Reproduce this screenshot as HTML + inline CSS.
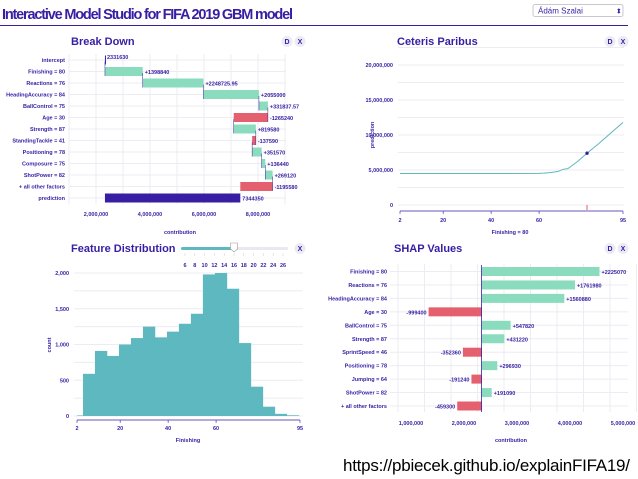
<!DOCTYPE html>
<html><head><meta charset="utf-8"><style>
html,body{margin:0;padding:0;background:#fff;width:638px;height:479px;overflow:hidden}
svg{display:block;font-family:"Liberation Sans","DejaVu Sans",sans-serif}
.t{fill:#371ea3;font-size:5.5px;font-weight:bold}
.ttl{fill:#371ea3;font-size:11px;font-weight:bold}
.btn{fill:#ecebf5}
.bt{fill:#371ea3;font-size:7px;font-weight:bold;text-anchor:middle}
.g{stroke:#ececf2;stroke-width:1}
</style></head><body>
<svg id="s" width="638" height="479" viewBox="0 0 638 479">
<text x="2" y="19" style="fill:#371ea3;font-size:14.5px;font-weight:bold" textLength="291">Interactive Model Studio for FIFA 2019 GBM model</text>
<line x1="0" y1="25.5" x2="628" y2="25.5" stroke="#371ea3" stroke-width="1"/>
<g><rect x="533" y="4.5" width="90" height="12" rx="2" fill="#fff" stroke="#c8c8d0"/><text x="538" y="13.5" style="fill:#371ea3;font-size:8px">Ádám Szalai</text><text x="616" y="13.5" style="fill:#371ea3;font-size:7px">⬍</text></g>
<text x="343" y="471" style="fill:#000;font-size:17px" textLength="287">https://pbiecek.github.io/explainFIFA19/</text>
<g id="bd"></g><g id="cp"></g><g id="fd"></g><g id="sh"></g>
</svg>
<script>
// Break Down data
const bdLabels=["intercept","Finishing = 80","Reactions = 76","HeadingAccuracy = 84","BallControl = 75","Age = 30","Strength = 87","StandingTackle = 41","Positioning = 78","Composure = 75","ShotPower = 82","+ all other factors","prediction"];
const bdValues=[2331630,1398840,2248725.95,2055000,331837.57,-1265240,819580,-137590,351570,136440,269120,-1195580,7344350];
const bdText=["2331630","+1398840","+2248725.95","+2055000","+331837.57","-1265240","+819580","-137590","+351570","+136440","+269120","-1195580","7344350"];
const bdTicks=[2000000,4000000,6000000,8000000];
// Ceteris Paribus data
const cpX=[2,20,40,60,62,65,68,70,72,74,76,78,80,85,90,95];
const cpY=[4.5,4.5,4.5,4.52,4.55,4.65,4.8,5.1,5.2,5.7,6.2,6.8,7.4,8.8,10.3,11.8];
const cpObsX=80, cpObsY=7.4;
const cpYTicks=[0,5,10,15,20];
const cpXTicks=[2,20,40,60,95];
// Feature distribution data
const fdEdges=[2,4.5,9.5,14.5,19.5,24.5,29.5,34.5,39.5,44.5,49.5,54.5,59.5,64.5,69.5,74.5,79.5,84.5,89.5,94.5];
const fdCounts=[8,590,910,840,1000,1090,1250,1100,1180,1290,1430,1980,2000,1780,1020,410,130,30,10];
const fdYTicks=[0,500,1000,1500,2000];
const fdXTicks=[2,20,40,60,95];
const sliderTicks=[6,8,10,12,14,16,18,20,22,24,26];
const sliderValue=16;
// SHAP data
const shLabels=["Finishing = 80","Reactions = 76","HeadingAccuracy = 84","Age = 30","BallControl = 75","Strength = 87","SprintSpeed = 46","Positioning = 78","Jumping = 64","ShotPower = 82","+ all other factors"];
const shValues=[2225070,1761980,1560880,-999400,547820,431220,-352360,296930,-191240,191090,-459300];
const shBase=2331630;
const shTicks=[1000000,2000000,3000000,4000000,5000000];

const NS="http://www.w3.org/2000/svg";
function el(p,tag,a,txt){const e=document.createElementNS(NS,tag);for(const k in a)e.setAttribute(k,a[k]);if(txt!==undefined)e.textContent=txt;p.appendChild(e);return e;}
const fmt=v=>v.toLocaleString("en-US");
const GREEN="#8bdcbe",RED="#e4606e",DARK="#371ea3",TEAL="#5db8c0";
function header(g,title,x,y,bx,btns){
  const t=el(g,"text",{x:x,y:y,class:"ttl"},title);
  
  
  btns.forEach((b,i)=>{const c=el(g,"circle",{cx:bx+i*13,cy:y-3.5,r:5.5,class:"btn"});
    
    
    el(g,"text",{x:bx+i*13,y:y-1,class:"bt"},b);});
}
// ---------- Break Down ----------
(function(){
  const g=document.getElementById("bd");
  
  
  header(g,"Break Down",71,45,287,["D","X"]);
  const xs=v=>96+(v-2000000)*54/2000000, y0=60, dy=11.5;
  for(let i=0;i<=8;i++){el(g,"line",{x1:69+i*27,x2:69+i*27,y1:54,y2:204,class:"g"});}
  bdLabels.forEach((l,i)=>el(g,"line",{x1:69,x2:286,y1:y0+i*dy,y2:y0+i*dy,class:"g"}));
  bdTicks.forEach(t=>{const tt=el(g,"text",{x:xs(t),y:216,class:"t","text-anchor":"middle"},fmt(t));
    });
  let cum=0;
  bdLabels.forEach((l,i)=>{
    const y=y0+i*dy;
    const lt=el(g,"text",{x:65,y:y+2,class:"t","text-anchor":"end"},l);
    
    let a,b,col;
    if(i===0){a=bdValues[0];b=bdValues[0];cum=a;col=DARK;}
    else if(i===bdLabels.length-1){a=bdValues[0];b=bdValues[i];col=DARK;}
    else{a=cum;b=cum+bdValues[i];cum=b;col=bdValues[i]>=0?GREEN:RED;}
    const x1=xs(Math.min(a,b)),x2=xs(Math.max(a,b));
    const r=el(g,"rect",{x:x1,y:y-4.5,width:Math.max(x2-x1,1),height:9,fill:col});
    
    
    if(i>0&&i<bdLabels.length-1) el(g,"line",{x1:xs(a),x2:xs(a),y1:y-10,y2:y+4.5,stroke:"#371ea3","stroke-width":0.5});
    el(g,"text",{x:x2+2,y:y+(i===0?-1:2.5),class:"t"},bdText[i]);
  });
  el(g,"text",{x:180,y:234,class:"t","text-anchor":"middle","font-weight":"bold","font-size":"7"},"contribution");
})();
// ---------- Ceteris Paribus ----------
(function(){
  const g=document.getElementById("cp");
  
  
  header(g,"Ceteris Paribus",397,45,610,["D","X"]);
  const xs=v=>400+(v-2)*223/93, ys=v=>205-v*7;
  for(let v=0;v<=22.5;v+=2.5) el(g,"line",{x1:398,x2:624,y1:ys(v),y2:ys(v),class:"g"});
  cpYTicks.forEach(t=>{const tt=el(g,"text",{x:393,y:ys(t)+2,class:"t","text-anchor":"end"},t===0?"0":fmt(t*1000000));
    });
  el(g,"line",{x1:400,x2:623,y1:211,y2:211,stroke:"#371ea3","stroke-width":0.8});
  cpXTicks.forEach(t=>{el(g,"line",{x1:xs(t),x2:xs(t),y1:211,y2:214,stroke:"#371ea3","stroke-width":0.6});
    el(g,"text",{x:xs(t),y:222,class:"t","text-anchor":"middle"},String(t));});
  const rug=el(g,"line",{x1:xs(cpObsX),x2:xs(cpObsX),y1:205,y2:210,stroke:"#e4606e","stroke-width":1});
  
  const p=el(g,"polyline",{points:cpX.map((x,i)=>xs(x)+","+ys(cpY[i])).join(" "),fill:"none",stroke:TEAL,"stroke-width":1});
  
  const d=el(g,"circle",{cx:xs(cpObsX),cy:ys(cpObsY),r:1.7,fill:DARK});
  
  el(g,"text",{x:0,y:0,class:"t","text-anchor":"middle","font-weight":"bold","font-size":"7",transform:"translate(374,135) rotate(-90)"},"prediction");
  el(g,"text",{x:510,y:234,class:"t","text-anchor":"middle","font-weight":"bold","font-size":"7"},"Finishing = 80");
})();
// ---------- Feature Distribution ----------
(function(){
  const g=document.getElementById("fd");
  
  
  header(g,"Feature Distribution",71,252,300,["X"]);
  const sx=v=>185+(v-6)*98/20;
  const tr=el(g,"rect",{x:181,y:247,width:107,height:3,rx:1.5,fill:"#e8e8ee"});
  
  el(g,"rect",{x:181,y:247,width:sx(sliderValue)-181,height:3,rx:1.5,fill:TEAL});
  sliderTicks.forEach(t=>{el(g,"line",{x1:sx(t),x2:sx(t),y1:253,y2:256,stroke:"#ccc","stroke-width":0.5});
    el(g,"text",{x:sx(t),y:267,class:"t","text-anchor":"middle","font-size":"4.5"},String(t));});
  const h=el(g,"path",{d:`M${sx(sliderValue)-3.5},243 h7 v6 l-3.5,3 l-3.5,-3 z`,fill:"#fff",stroke:"#999","stroke-width":0.6});
  
  const xs=v=>77+(v-2)*223/93, ys=v=>416-v*143/2000;
  for(let v=0;v<=2000;v+=250) el(g,"line",{x1:74,x2:303,y1:ys(v),y2:ys(v),class:"g"});
  fdYTicks.forEach(t=>{const tt=el(g,"text",{x:69,y:ys(t)+2,class:"t","text-anchor":"end"},fmt(t));
    });
  fdCounts.forEach((c,i)=>{const x1=xs(fdEdges[i]),x2=xs(fdEdges[i+1]);
    const r=el(g,"rect",{x:x1,y:ys(c),width:x2-x1+0.3,height:416-ys(c),fill:TEAL});
    });
  el(g,"line",{x1:77,x2:300,y1:420,y2:420,stroke:"#371ea3","stroke-width":0.8});
  fdXTicks.forEach(t=>{el(g,"line",{x1:xs(t),x2:xs(t),y1:420,y2:423,stroke:"#371ea3","stroke-width":0.6});
    el(g,"text",{x:xs(t),y:430,class:"t","text-anchor":"middle"},String(t));});
  el(g,"text",{x:0,y:0,class:"t","text-anchor":"middle","font-weight":"bold","font-size":"7",transform:"translate(51,345) rotate(-90)"},"count");
  el(g,"text",{x:188,y:442,class:"t","text-anchor":"middle","font-weight":"bold","font-size":"7"},"Finishing");
})();
// ---------- SHAP ----------
(function(){
  const g=document.getElementById("sh");
  
  
  header(g,"SHAP Values",394,252,610,["D","X"]);
  const xs=v=>411+(v-1000000)*53/1000000, y0=271.5, dy=13.45;
  for(let i=0;i<=9;i++) el(g,"line",{x1:xs(1000000)-13+i*26.5,x2:xs(1000000)-13+i*26.5,y1:264,y2:412,class:"g"});
  shLabels.forEach((l,i)=>el(g,"line",{x1:390,x2:628,y1:y0+i*dy,y2:y0+i*dy,class:"g"}));
  shTicks.forEach(t=>{const tt=el(g,"text",{x:xs(t),y:425,class:"t","text-anchor":"middle"},fmt(t));
    });
  shLabels.forEach((l,i)=>{
    const y=y0+i*dy,v=shValues[i];
    el(g,"text",{x:387,y:y+2,class:"t","text-anchor":"end"},l);
    const a=xs(shBase),b=xs(shBase+v);
    const r=el(g,"rect",{x:Math.min(a,b),y:y-4.5,width:Math.abs(b-a),height:9,fill:v>=0?GREEN:RED});
    
    if(v>=0) el(g,"text",{x:b+2,y:y+2.5,class:"t"},"+"+v);
    else el(g,"text",{x:b-2,y:y+2.5,class:"t","text-anchor":"end"},String(v));
  });
  el(g,"line",{x1:xs(shBase),x2:xs(shBase),y1:265,y2:412,stroke:"#371ea3","stroke-width":0.8});
  el(g,"text",{x:511,y:442,class:"t","text-anchor":"middle","font-weight":"bold","font-size":"7"},"contribution");
})();
</script>
</body></html>
